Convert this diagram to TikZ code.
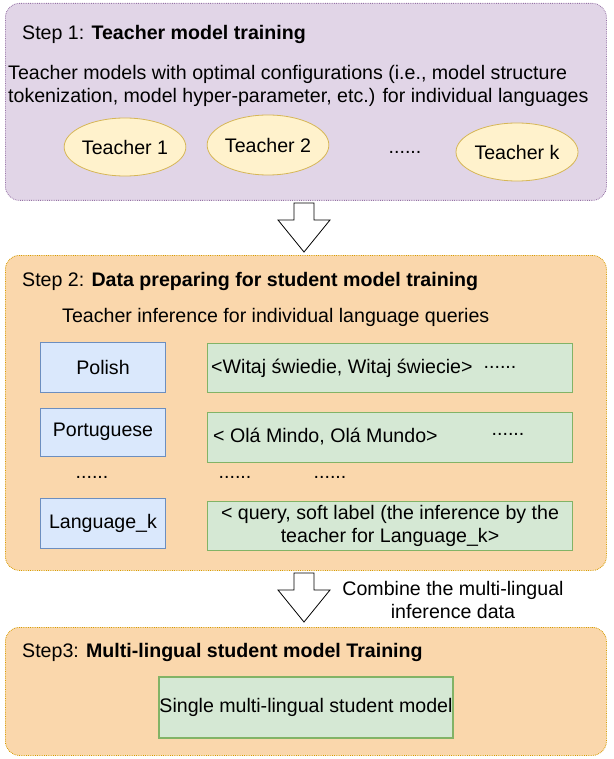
\documentclass[tikz,border=0pt]{standalone}
\usepackage{fontspec}
\setmainfont{Liberation Sans}
\usetikzlibrary{shapes.geometric}
\definecolor{purfill}{HTML}{E1D5E7}\definecolor{purline}{HTML}{9673A6}
\definecolor{orfill}{HTML}{FAD7AC}\definecolor{orline}{HTML}{D79B00}
\definecolor{blfill}{HTML}{DAE8FC}\definecolor{blline}{HTML}{6C8EBF}
\definecolor{grfill}{HTML}{D5E8D4}\definecolor{grline}{HTML}{82B366}
\definecolor{yefill}{HTML}{FFF2CC}\definecolor{yeline}{HTML}{D6B656}
\tikzset{
 panel/.style={draw=#1, densely dotted, rounded corners=14pt, line width=0.8pt},
 txt/.style={font=\fontsize{19.6}{23}\selectfont, inner sep=0pt},
 teacher/.style={ellipse, draw=yeline, fill=yefill, line width=0.8pt, minimum width=120pt, minimum height=58pt, txt},
 lang/.style={draw=blline, fill=blfill, line width=0.8pt, minimum width=125pt, minimum height=50pt, txt},
 pair/.style={draw=grline, fill=grfill, line width=0.8pt, minimum width=365pt, minimum height=50pt, txt},
 bigarrow/.style={draw=black, fill=white, line width=0.8pt, line join=miter},
}
\newcommand{\blockarrow}[1]{\draw[bigarrow] ($(#1)+(-10,-25)$) -- ($(#1)+(10,-25)$) -- ($(#1)+(10,-8)$) -- ($(#1)+(26,-8)$) -- ($(#1)+(0,24)$) -- ($(#1)+(-26,-8)$) -- ($(#1)+(-10,-8)$) -- cycle;}
\usetikzlibrary{calc}
\begin{document}
\begin{tikzpicture}[x=1pt,y=-1pt]
\useasboundingbox (0,0) rectangle (613,759);
\fill[white] (0,0) rectangle (613,759);
% panel 1
\node[panel=purline, fill=purfill, minimum width=601pt, minimum height=197pt, anchor=north west] (p1) at (5,3) {};
\node[txt, anchor=west] (t1) at (22,34) {Step 1: \textbf{Teacher model training}};
\node[txt, anchor=west, align=left] (d1) at (8,86) {Teacher models with optimal configurations (i.e., model structure\\tokenization, model hyper-parameter, etc.) for individual languages};
\node[teacher] (T1) at (125,147) {Teacher 1};
\node[teacher, minimum height=60pt] (T2) at (268,145) {Teacher 2};
\node[txt] (td) at (405,152) {......};
\node[teacher, minimum width=122pt] (Tk) at (517,152) {Teacher k};
% arrow 1
\coordinate (a1) at (304,228);
\blockarrow{a1}
% panel 2
\node[panel=orline, fill=orfill, minimum width=601pt, minimum height=315pt, anchor=north west] (p2) at (5,255) {};
\node[txt, anchor=west] (t2) at (22,281) {Step 2: \textbf{Data preparing for student model training}};
\node[txt, anchor=west] (d2) at (62,317) {Teacher inference for individual language queries};
\node[lang] (L1) at (103,367) {Polish};
\node[lang, minimum height=48pt] (L2) at (103,432) {Portuguese};
\node[lang] (L3) at (103,523) {Language\_k};
\node[pair, minimum height=49pt] (G1) at (390,368) {};
\node[txt, anchor=west] at (211,368) {<Witaj świedie, Witaj świecie>};
\node[txt] at (500,367) {......};
\node[pair] (G2) at (390,437) {};
\node[txt, anchor=west] at (213,437) {< Olá Mindo, Olá Mundo>};
\node[txt] at (508,434) {......};
\node[pair, minimum height=49pt, align=center] (G3) at (390,526) {< query, soft label (the inference by the\\teacher for Language\_k>};
\node[txt] at (92,477) {......};
\node[txt] at (235,477) {......};
\node[txt] at (330,477) {......};
% arrow 2
\coordinate (a2) at (304,598);
\blockarrow{a2}
\node[txt, align=center] (cl) at (453,600) {Combine the multi-lingual\\inference data};
% panel 3
\node[panel=orline, fill=orfill, minimum width=601pt, minimum height=128pt, anchor=north west] (p3) at (5,627) {};
\node[txt, anchor=west] (t3) at (22,652) {Step3: \textbf{Multi-lingual student model Training}};
\node[draw=grline, fill=grfill, line width=2pt, minimum width=253pt, minimum height=61pt, txt] (S) at (306,707) {Single multi-lingual student model};
\end{tikzpicture}
\end{document}
